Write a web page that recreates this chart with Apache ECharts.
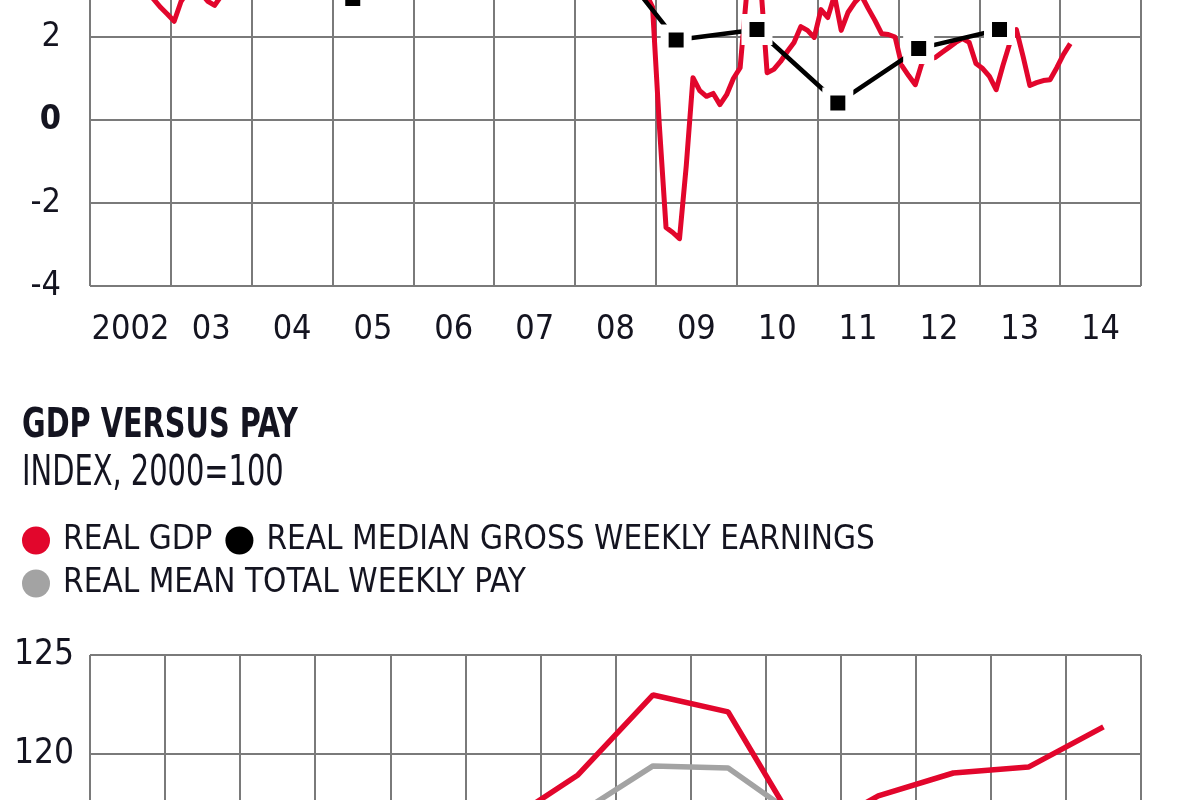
<!DOCTYPE html>
<html>
<head>
<meta charset="utf-8">
<script src="https://cdn.jsdelivr.net/npm/echarts@6/dist/echarts.min.js"></script>
<style>
html,body{margin:0;padding:0;background:#fff;width:1200px;height:800px;overflow:hidden;position:relative}
#c{position:absolute;left:0;top:-100px;width:1200px;height:1300px}
</style>
</head>
<body>
<div id="c"></div>
<script>
// ---------- DATA ----------
// Top panel: annual % change
const topYearLabels = ['2002','03','04','05','06','07','08','09','10','11','12','13','14'];
const gdpGrowthStartYear = 2002; // monthly readings, Jan 2002 onward
const gdpGrowthMonthly = [
  // 2002
  3.3, 3.5, 3.4, 3.6, 3.3, 3.2, 3.4, 3.5, 3.1, 2.9, 2.71, 2.55,
  // 2003
  2.38, 2.85, 3.1, 3.15, 3.05, 2.86, 2.76, 3.0, 3.2, 3.4, 3.6, 3.5,
  // 2004
  3.7, 3.9, 3.8, 4.0, 3.7, 3.5, 3.6, 3.4, 3.3, 3.5, 3.6, 3.4,
  // 2005
  3.3, 3.2, 3.4, 3.3, 3.1, 3.2, 3.3, 3.5, 3.4, 3.6, 3.7, 3.5,
  // 2006
  3.6, 3.8, 3.7, 3.5, 3.6, 3.4, 3.5, 3.7, 3.8, 3.6, 3.5, 3.7,
  // 2007
  3.9, 4.1, 3.8, 3.7, 3.9, 3.6, 3.5, 3.7, 3.4, 3.5, 3.3, 3.4,
  // 2008
  3.6, 3.3, 3.5, 3.2, 3.4, 3.3, 3.5, 3.2, 3.3, 3.1, 3.05, 2.72,
  // 2009
  -0.11, -2.59, -2.71, -2.86, -1.11, 1.02, 0.71, 0.57, 0.64, 0.37, 0.61, 1.0,
  // 2010
  1.26, 3.1, 3.6, 3.4, 1.14, 1.22, 1.41, 1.65, 1.87, 2.25, 2.16, 1.99,
  // 2011
  2.66, 2.47, 3.0, 2.16, 2.59, 2.83, 3.0, 2.69, 2.4, 2.08, 2.06, 2.0,
  // 2012
  1.31, 1.07, 0.85, 1.38, 1.46, 1.51, 1.63, 1.75, 1.87, 1.96, 1.87, 1.36,
  // 2013
  1.24, 1.05, 0.73, 1.31, 1.84, 2.18, 1.53, 0.83, 0.9, 0.95, 0.97, 1.26,
  // 2014
  1.58, 1.84
];
const earningsYears = [2002, 2003, 2004, 2005, 2006, 2007, 2008, 2009, 2010, 2011, 2012, 2013];
const earningsGrowth = [4.0, 3.3, 3.6, 2.93, 3.5, 3.4, 4.4, 1.93, 2.18, 0.41, 1.72, 2.18];

// Bottom panel: index, 2000=100
const indexYears = ['2000','2001','2002','2003','2004','2005','2006','2007','2008','2009','2010','2011','2012','2013'];
const realGdp      = [100, 103.5, 106.5, 109.5, 113.0, 116.4, 118.91, 122.97, 122.11, 115.71, 117.85, 119.01, 119.31, 121.35];
const realMedian   = [100, 101.8, 103.5, 104.6, 106.2, 107.1, 108.3, 109.4, 110.1, 111.2, 110.4, 107.6, 106.9, 106.1];
const realMeanPay  = [100, 103.0, 106.0, 109.0, 111.5, 114.0, 116.93, 119.37, 119.26, 116.57, 115.8, 114.6, 114.0, 113.5];

const topYTicks = {min: -4, max: 4, step: 2};
const botYTicks = {min: 100, max: 125, step: 5};

// ---------- BUILD ----------
const FONT = "'DejaVu Sans Condensed', 'DejaVu Sans', sans-serif";
const RED = '#e2062c', GREY = '#a3a3a3', BLACK = '#000000', GRID = '#7a7a7a', TXT = '#141420';
const OFF = 100; // chart canvas starts 100px above the visible page

const gdpGrowthPts = gdpGrowthMonthly.map((v, i) => [gdpGrowthStartYear + (i + 0.5) / 12, v]);
const earningsPts = earningsYears.map((y, i) => [y + 0.25, earningsGrowth[i]]);

const chart = echarts.init(document.getElementById('c'), null, {renderer: 'canvas'});
chart.setOption({
  backgroundColor: '#ffffff',
  animation: false,
  graphic: [
    {type: 'text', x: 22, y: 407 + OFF, scaleX: 0.80,
     style: {text: 'GDP VERSUS PAY', fontFamily: FONT, fontSize: 40, fontWeight: 'bold',
             fill: TXT, verticalAlign: 'top', align: 'left'}},
    {type: 'text', x: 22, y: 453 + OFF, scaleX: 0.765,
     style: {text: 'INDEX, 2000=100', fontFamily: FONT, fontSize: 42, fontWeight: 'normal',
             fill: TXT, verticalAlign: 'top', align: 'left'}}
  ],
  legend: [
    {left: 17, top: 519 + OFF, icon: 'circle', itemWidth: 28, itemHeight: 28, itemGap: 13,
     data: ['REAL GDP', 'REAL MEDIAN GROSS WEEKLY EARNINGS'],
     textStyle: {fontFamily: FONT, fontSize: 33, color: TXT, padding: [0, 0, 0, 8]}},
    {left: 17, top: 562 + OFF, icon: 'circle', itemWidth: 28, itemHeight: 28,
     data: ['REAL MEAN TOTAL WEEKLY PAY'],
     textStyle: {fontFamily: FONT, fontSize: 33, color: TXT, padding: [0, 0, 0, 8]}}
  ],
  grid: [
    {left: 90, right: 59, top: -46 + OFF, height: 332},
    {left: 90, right: 59, top: 655 + OFF, height: 492.5}
  ],
  xAxis: [
    {gridIndex: 0, type: 'value', min: 2002, max: 2015, interval: 1,
     axisLine: {show: false}, axisTick: {show: false}, axisLabel: {show: false},
     splitLine: {show: true, lineStyle: {color: GRID, width: 2}}},
    {gridIndex: 0, type: 'category', data: topYearLabels, position: 'bottom', boundaryGap: true,
     axisLine: {show: false}, axisTick: {show: false}, splitLine: {show: false},
     axisLabel: {interval: 0, fontFamily: FONT, fontSize: 34, color: TXT, margin: 27}},
    {gridIndex: 1, type: 'category', data: indexYears, boundaryGap: true,
     axisLine: {show: false}, axisTick: {show: false}, axisLabel: {show: false},
     splitLine: {show: true, interval: 0, lineStyle: {color: GRID, width: 2}}}
  ],
  yAxis: [
    {gridIndex: 0, type: 'value', min: topYTicks.min, max: topYTicks.max, interval: topYTicks.step,
     axisLine: {show: false}, axisTick: {show: false},
     splitLine: {show: true, lineStyle: {color: GRID, width: 2}},
     axisLabel: {fontFamily: FONT, fontSize: 34, color: TXT, margin: 29,
       formatter: v => v === 0 ? '{b|0}' : String(v),
       rich: {b: {fontFamily: FONT, fontSize: 34, fontWeight: 'bold', color: TXT}}}},
    {gridIndex: 1, type: 'value', min: botYTicks.min, max: botYTicks.max, interval: botYTicks.step,
     axisLine: {show: false}, axisTick: {show: false},
     splitLine: {show: true, lineStyle: {color: GRID, width: 2}},
     axisLabel: {fontFamily: FONT, fontSize: 35, color: TXT, margin: 16}}
  ],
  series: [
    {name: 'GDP growth', type: 'line', xAxisIndex: 0, yAxisIndex: 0, data: gdpGrowthPts,
     showSymbol: false, symbol: 'none', lineStyle: {color: RED, width: 5, join: 'round'}, z: 3},
    {name: 'Median earnings growth', type: 'line', xAxisIndex: 0, yAxisIndex: 0, data: earningsPts,
     symbol: 'rect', symbolSize: 23, lineStyle: {color: BLACK, width: 4.5},
     itemStyle: {color: BLACK, borderColor: '#ffffff', borderWidth: 8}, z: 4},
    {name: 'REAL GDP', type: 'line', xAxisIndex: 2, yAxisIndex: 1, data: realGdp,
     symbol: 'none', lineStyle: {color: RED, width: 5.5}, itemStyle: {color: RED}, z: 4},
    {name: 'REAL MEDIAN GROSS WEEKLY EARNINGS', type: 'line', xAxisIndex: 2, yAxisIndex: 1, data: realMedian,
     symbol: 'none', lineStyle: {color: BLACK, width: 5.5}, itemStyle: {color: BLACK}, z: 3},
    {name: 'REAL MEAN TOTAL WEEKLY PAY', type: 'line', xAxisIndex: 2, yAxisIndex: 1, data: realMeanPay,
     symbol: 'none', lineStyle: {color: GREY, width: 5.5}, itemStyle: {color: GREY}, z: 3}
  ]
});
</script>
</body>
</html>
